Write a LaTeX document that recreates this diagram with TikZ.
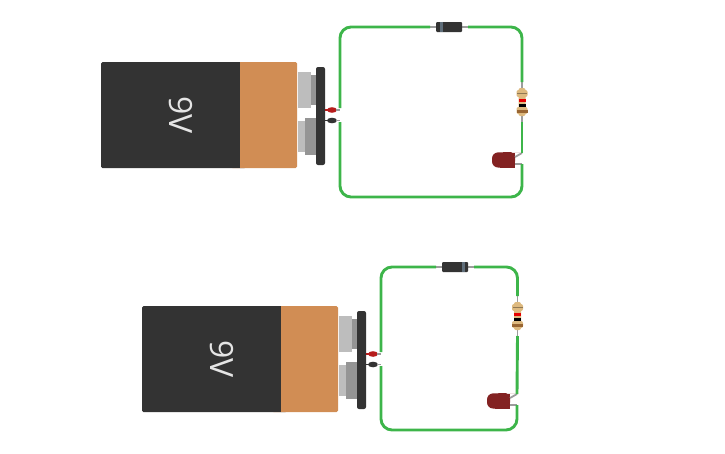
\documentclass[tikz,border=0pt]{standalone}
\usepackage{fontspec}
\setsansfont{Open Sans}
\usetikzlibrary{positioning}
\definecolor{batdark}{HTML}{333333}
\definecolor{batorange}{HTML}{D18D54}
\definecolor{wiregreen}{HTML}{3DB54A}
\definecolor{termlight}{HTML}{BDBDBD}
\definecolor{termdark}{HTML}{959595}
\definecolor{leadgrey}{HTML}{9C9C9C}
\definecolor{ledred}{HTML}{832222}
\definecolor{restan}{HTML}{DDB97F}
\definecolor{clipred}{HTML}{B71C1C}
\definecolor{diodeband}{HTML}{5F6E7A}
\tikzset{
  wire/.style={draw=wiregreen, line width=2.9pt, rounded corners=11pt},
  lead/.style={draw=leadgrey, line width=1.8pt},
  battery/.pic={
    \fill[batdark, rounded corners=1.5pt] (0, 0) rectangle (145, 106);
    \fill[batorange, rounded corners=1.5pt] (130, 0) rectangle (196, 106);
    \fill[batdark] (130, 0) rectangle (138.5, 106);
    \fill[termlight] (197, 10) rectangle (210, 46);
    \fill[termdark] (210, 13) rectangle (215, 43);
    \fill[termlight] (197, 59) rectangle (204, 90);
    \fill[termdark] (204, 56) rectangle (215, 93);
    \fill[batdark, rounded corners=2pt] (215, 5) rectangle (224, 103);
    \node[text=black!10, font=\sffamily\fontsize{32}{32}\selectfont, rotate=-90] at (80, 53) {9V};
    \draw[clipred, line width=1.4pt] (224, 48) -- (235, 48);
    \fill[clipred] (231, 48) ellipse (5 and 2.8);
    \draw[batdark, line width=1.4pt] (224, 58.5) -- (235, 58.5);
    \fill[batdark] (231, 58.5) ellipse (5 and 2.8);
    \draw[lead] (235, 48) -- (239, 48);
    \draw[lead] (235, 58.5) -- (239, 58.5);
    \coordinate (-plus) at (239, 46);
    \coordinate (-minus) at (239, 60);
  },
  diode/.pic={
    \draw[lead] (-19, 0) -- (19, 0);
    \fill[batdark, rounded corners=1pt] (-13, -5) rectangle (13, 5);
    \fill[diodeband] (#1-1.5, -5) rectangle (#1+1.5, 5);
    \coordinate (-west) at (-19, 0);
    \coordinate (-east) at (19, 0);
  },
  resistor/.pic={
    \draw[lead] (0, -20) -- (0, 20);
    \fill[restan, rounded corners=2pt] (-3.5, -14) rectangle (3.5, 14);
    \fill[restan, rounded corners=2pt] (-5.5, -12) rectangle (5.5, -5);
    \fill[restan, rounded corners=2pt] (-5.5, 5) rectangle (5.5, 12);
    \fill[black!35!restan] (-5, -9) rectangle (5, -8);
    \fill[red!90!black] (-3.5, -3.5) rectangle (3.5, 0);
    \fill[black] (-3.5, 2) rectangle (3.5, 5);
    \fill[brown!80!black] (-5.5, 7.5) rectangle (5.5, 10.5);
    \coordinate (-north) at (0, -20);
    \coordinate (-south) at (0, 20);
  },
  led/.pic={
    \fill[ledred, rounded corners=6pt] (-12, -7.5) -- (10, -8) -- (11, -8) -- (11, 7.5) -- (-12, 7.5) -- cycle;
    \fill[ledred] (-4, -7.5) rectangle (11, 7.5);
    \coordinate (-top) at (18, -7);
    \coordinate (-bottom) at (18, 4);
    \draw[lead] (11, -3) -- (-top);
    \draw[lead] (11, 4) -- (-bottom);
  },
}
\begin{document}
\begin{tikzpicture}[x=1pt, y=-1pt]
  \useasboundingbox (0, 0) rectangle (725, 453);
  % top circuit
  \pic (bat1) at (101, 62) {battery};
  \pic (diode1) at (449, 27) {diode=-8};
  \pic (res1) at (522, 102) {resistor};
  \pic (led1) at (504, 160) {led};
  \draw[wire] (bat1-plus) -- (340, 27) -- (diode1-west);
  \draw[wire] (diode1-east) -- (522, 27) -- (res1-north);
  \draw[wire] (res1-south) -- (led1-top);
  \draw[wire] (led1-bottom) -- (522, 197) -- (340, 197) -- (bat1-minus);
  % bottom circuit
  \pic (bat2) at (142, 306) {battery};
  \pic (diode2) at (455, 267) {diode=8};
  \pic (res2) at (517.5, 316) {resistor};
  \pic (led2) at (499, 401) {led};
  \draw[wire] (bat2-plus) -- (381, 267) -- (diode2-west);
  \draw[wire] (diode2-east) -- (517.5, 267) -- (res2-north);
  \draw[wire] (res2-south) -- (led2-top);
  \draw[wire] (led2-bottom) -- (517, 430) -- (381, 430) -- (bat2-minus);
\end{tikzpicture}
\end{document}
